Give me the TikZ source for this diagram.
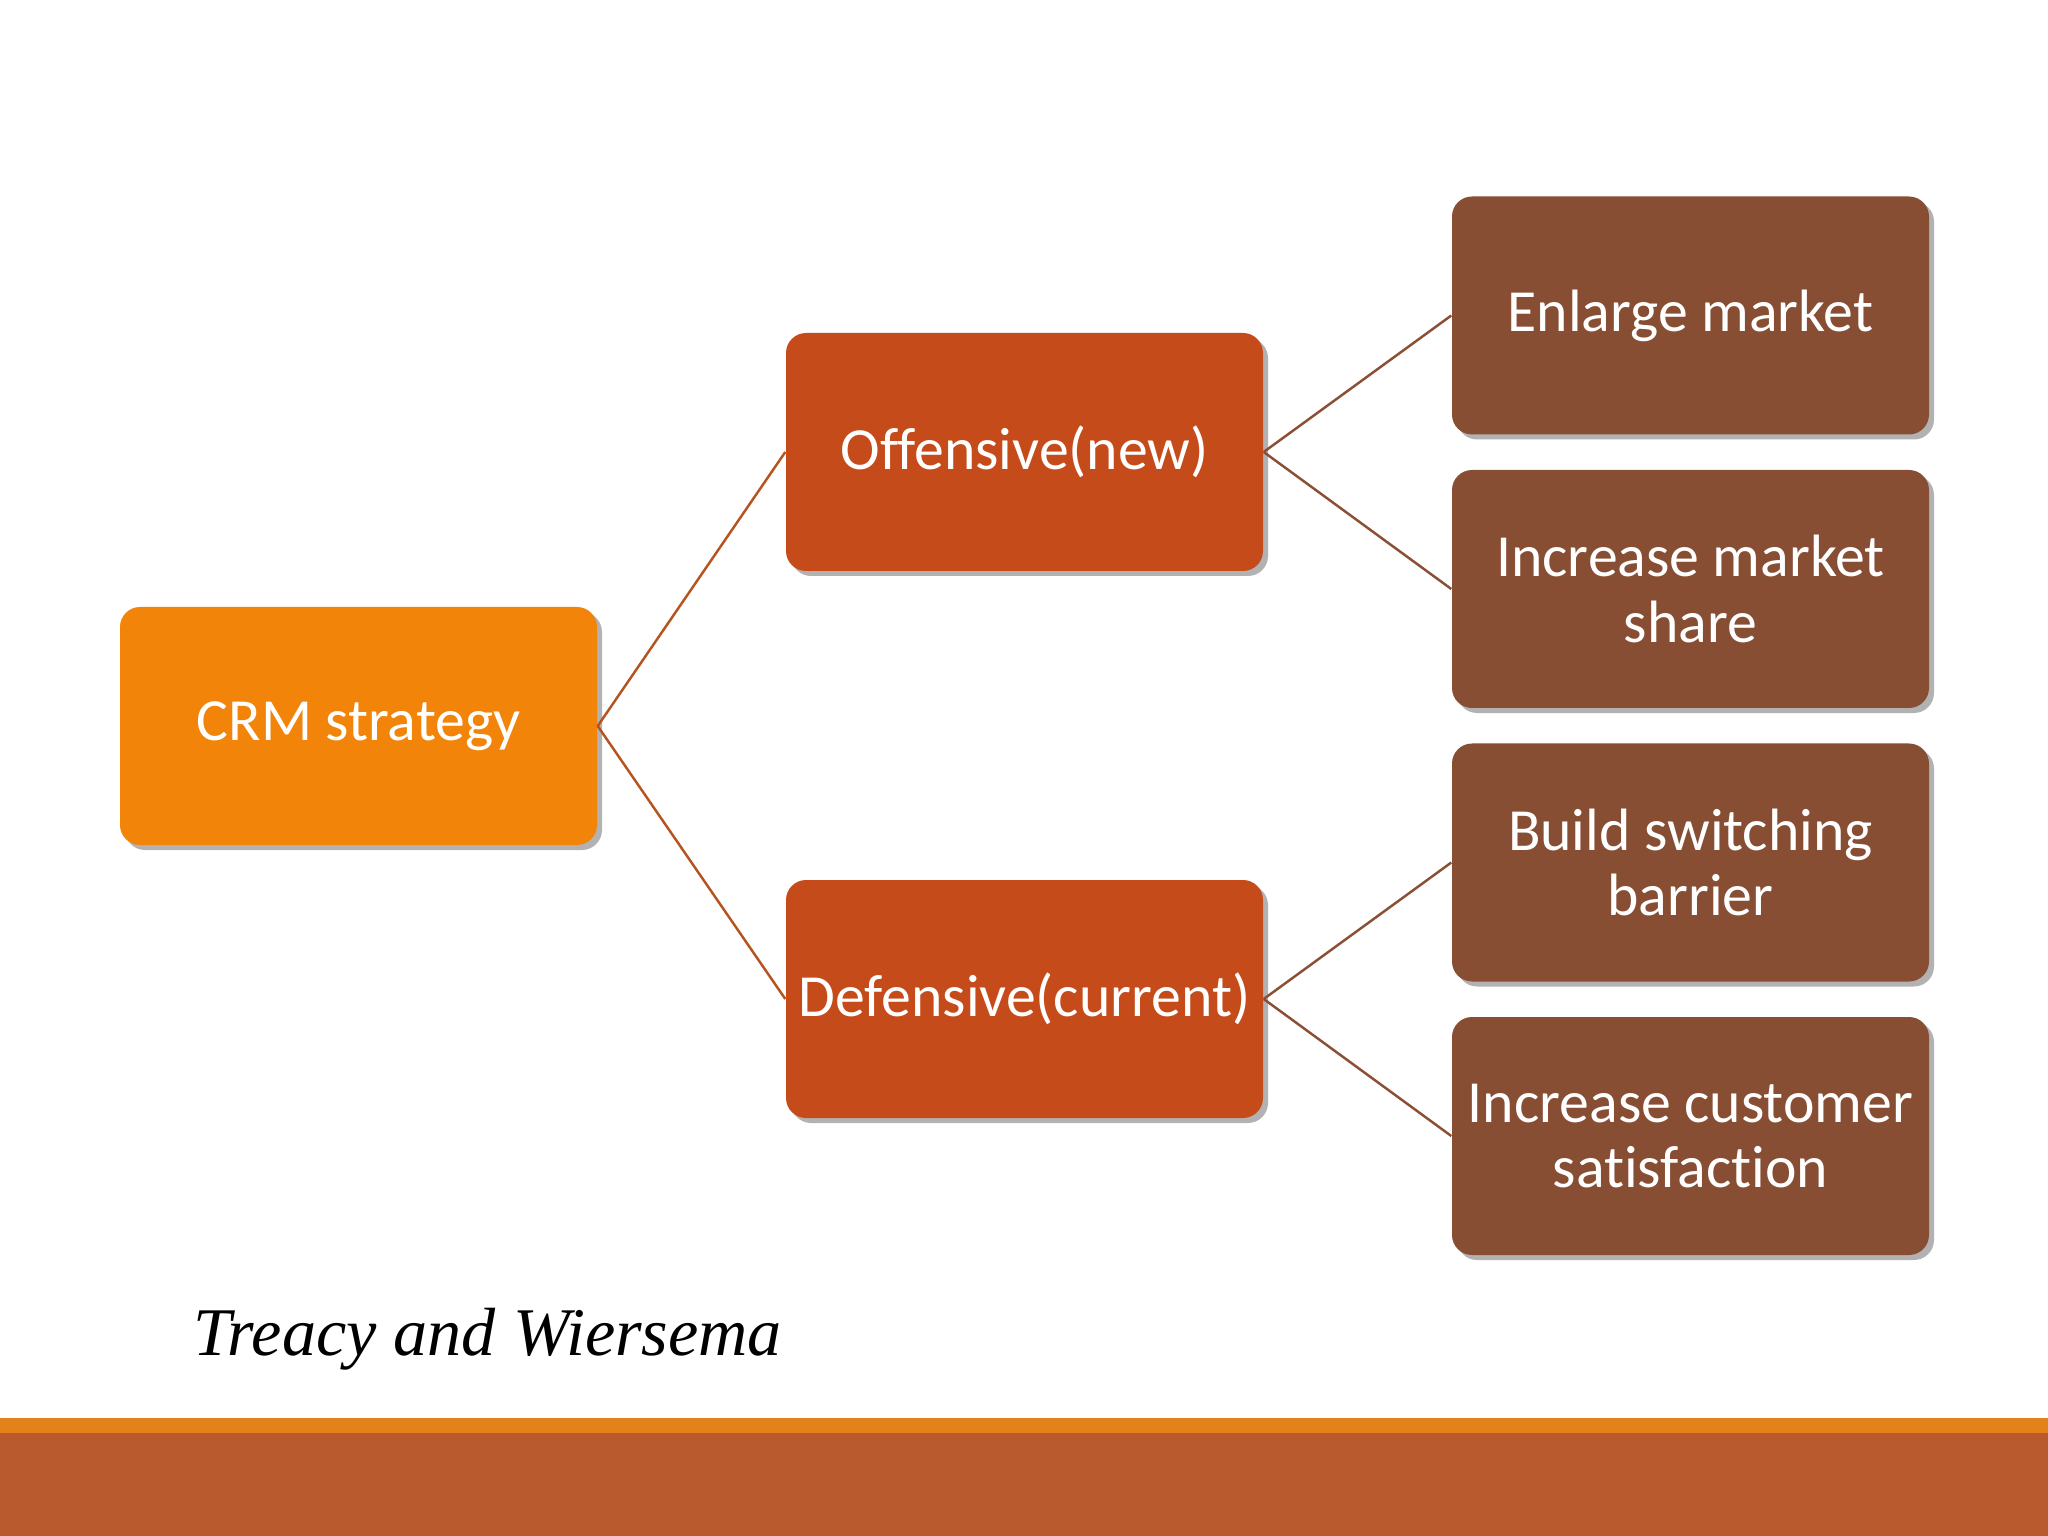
\documentclass[tikz,border=0pt]{standalone}
\usepackage{fontspec}
\setmainfont[Ligatures=NoCommon]{Carlito}
\newfontfamily\timesfont{Liberation Serif}
\usetikzlibrary{shadows}
\definecolor{crmorange}{HTML}{F18409}
\definecolor{midorange}{HTML}{C64B1A}
\definecolor{rbrown}{HTML}{874E34}
\definecolor{lineA}{HTML}{B5541F}
\definecolor{lineB}{HTML}{8B4F35}
\definecolor{bandline}{HTML}{E3821A}
\definecolor{band}{HTML}{B9592E}
\tikzset{
  boxbase/.style={rectangle, rounded corners=0.2cm, minimum width=4.77cm, minimum height=2.38cm,
    text=white, align=center, inner sep=0pt,
    font=\fontsize{17}{18.6}\selectfont,
    drop shadow={shadow xshift=0.05cm, shadow yshift=-0.05cm, opacity=0.55, fill=black!55}},
  crmbox/.style={boxbase, fill=crmorange},
  midbox/.style={boxbase, fill=midorange},
  leafbox/.style={boxbase, fill=rbrown},
  linkA/.style={draw=lineA, line width=0.7pt},
  linkB/.style={draw=lineB, line width=0.7pt}
}
\begin{document}
\begin{tikzpicture}
\useasboundingbox (0,0) rectangle (20.48,-15.36);
\fill[white] (0,0) rectangle (20.48,-15.36);
% bottom band
\fill[bandline] (0,-14.18) rectangle (20.48,-14.33);
\fill[band] (0,-14.33) rectangle (20.48,-15.36);
% nodes
\node[crmbox] (crm) at (3.585,-7.26) {CRM strategy};
\node[midbox] (off) at (10.245,-4.52) {Offensive(new)};
\node[midbox] (def) at (10.245,-9.99) {Defensive(current)};
\node[leafbox] (enl) at (16.905,-3.155) {Enlarge market};
\node[leafbox] (ims) at (16.905,-5.89) {Increase market\\share};
\node[leafbox] (bsb) at (16.905,-8.625) {Build switching\\barrier};
\node[leafbox] (ics) at (16.905,-11.36) {Increase customer\\satisfaction};
% connectors
\draw[linkA] (crm.east) -- (off.west);
\draw[linkA] (crm.east) -- (def.west);
\draw[linkB] (off.east) -- (enl.west);
\draw[linkB] (off.east) -- (ims.west);
\draw[linkB] (def.east) -- (bsb.west);
\draw[linkB] (def.east) -- (ics.west);
% caption
\node[anchor=base west, inner sep=0pt, font=\timesfont\itshape\fontsize{19.4}{21}\selectfont] (cap) at (1.93,-13.55) {Treacy and Wiersema};
\end{tikzpicture}
\end{document}
